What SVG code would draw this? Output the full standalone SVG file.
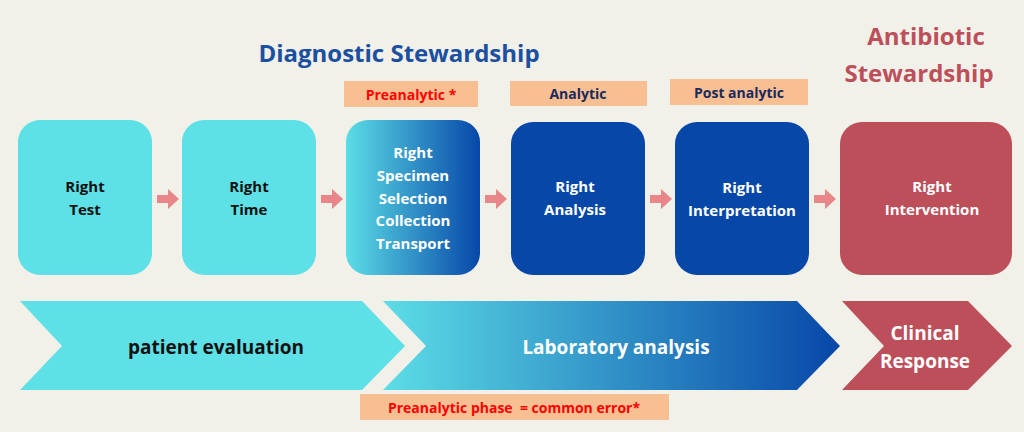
<svg xmlns="http://www.w3.org/2000/svg" width="1024" height="432" viewBox="0 0 1024 432">
<style>
text{font-family:"Open Sans","Noto Sans","Liberation Sans",sans-serif;font-weight:bold;text-anchor:middle}
.w{fill:#fff;font-size:15px}.k{fill:#111;font-size:15px}
.tag{fill:#f8bf93}
</style>
<defs>
<linearGradient id="g1" x1="0" x2="1"><stop offset="0" stop-color="#5cdde6"/><stop offset="1" stop-color="#0747a8"/></linearGradient>
<linearGradient id="g2" x1="0" x2="1"><stop offset="0" stop-color="#5cdde6"/><stop offset="1" stop-color="#0747a8"/></linearGradient>
<symbol id="ar" viewBox="0 0 22 20"><path d="M0 6H11V0L22 10L11 20V14H0Z" fill="#e8868a"/></symbol>
</defs>
<rect width="1024" height="432" fill="#f1f0e9"/>
<text x="399" y="62" style="font-size:24px;fill:#1b4fa0">Diagnostic Stewardship</text>
<text x="926" y="45" style="font-size:24px;fill:#bd4f5a">Antibiotic</text>
<text x="919" y="82" style="font-size:24px;fill:#bd4f5a">Stewardship</text>
<g id="tag1"><rect class="tag" x="344" y="81" width="134" height="26"/><text x="411" y="100" style="font-size:14px;fill:#f00">Preanalytic *</text></g>
<g id="tag2"><rect class="tag" x="510" y="81" width="137" height="25"/><text x="578" y="99" style="font-size:14px;fill:#1a2a5a">Analytic</text></g>
<g id="tag3"><rect class="tag" x="670" y="79" width="138" height="26"/><text x="739" y="98" style="font-size:14px;fill:#1a2a5a">Post analytic</text></g>
<g id="n1"><rect x="18" y="120" width="134" height="155" rx="22" fill="#5de0e6"/><text class="k" x="85" y="192">Right</text><text class="k" x="85" y="215">Test</text></g>
<g id="n2"><rect x="182" y="120" width="134" height="155" rx="22" fill="#5de0e6"/><text class="k" x="249" y="192">Right</text><text class="k" x="249" y="215">Time</text></g>
<g id="n3"><rect x="346" y="120" width="134" height="155" rx="22" fill="url(#g1)"/><text class="w" x="413" y="158">Right</text><text class="w" x="413" y="181">Specimen</text><text class="w" x="413" y="204">Selection</text><text class="w" x="413" y="226">Collection</text><text class="w" x="413" y="249">Transport</text></g>
<g id="n4"><rect x="511" y="122" width="134" height="153" rx="22" fill="#0747a8"/><text class="w" x="575" y="192">Right</text><text class="w" x="575" y="215">Analysis</text></g>
<g id="n5"><rect x="675" y="122" width="134" height="153" rx="22" fill="#0747a8"/><text class="w" x="742" y="193">Right</text><text class="w" x="742" y="216">Interpretation</text></g>
<g id="n6"><rect x="840" y="122" width="172" height="153" rx="22" fill="#bd4f5a"/><text class="w" x="932" y="192">Right</text><text class="w" x="932" y="215">Intervention</text></g>
<g id="connectors">
<use href="#ar" x="157" y="189" width="22" height="20"/>
<use href="#ar" x="321" y="189" width="22" height="20"/>
<use href="#ar" x="485" y="189" width="22" height="20"/>
<use href="#ar" x="650" y="189" width="22" height="20"/>
<use href="#ar" x="814" y="189" width="22" height="20"/>
</g>
<g id="c1"><path d="M20 301H362L405 346L362 390H20L62 346Z" fill="#5de0e6"/><text x="216" y="354" style="font-size:19px;fill:#111">patient evaluation</text></g>
<g id="c2"><path d="M383 301H797L840 346L797 390H383L426 346Z" fill="url(#g2)"/><text x="616" y="354" style="font-size:19px;fill:#fff">Laboratory analysis</text></g>
<g id="c3"><path d="M842 301H968L1012 346L968 390H842L884 346Z" fill="#bd4f5a"/><text x="925" y="340" style="font-size:19px;fill:#fff">Clinical</text><text x="925" y="368" style="font-size:19px;fill:#fff">Response</text></g>
<g id="tag4"><rect class="tag" x="360" y="394" width="309" height="26"/><text x="514" y="413" style="font-size:14px;fill:#f00">Preanalytic phase&#160; = common error*</text></g>
</svg>
